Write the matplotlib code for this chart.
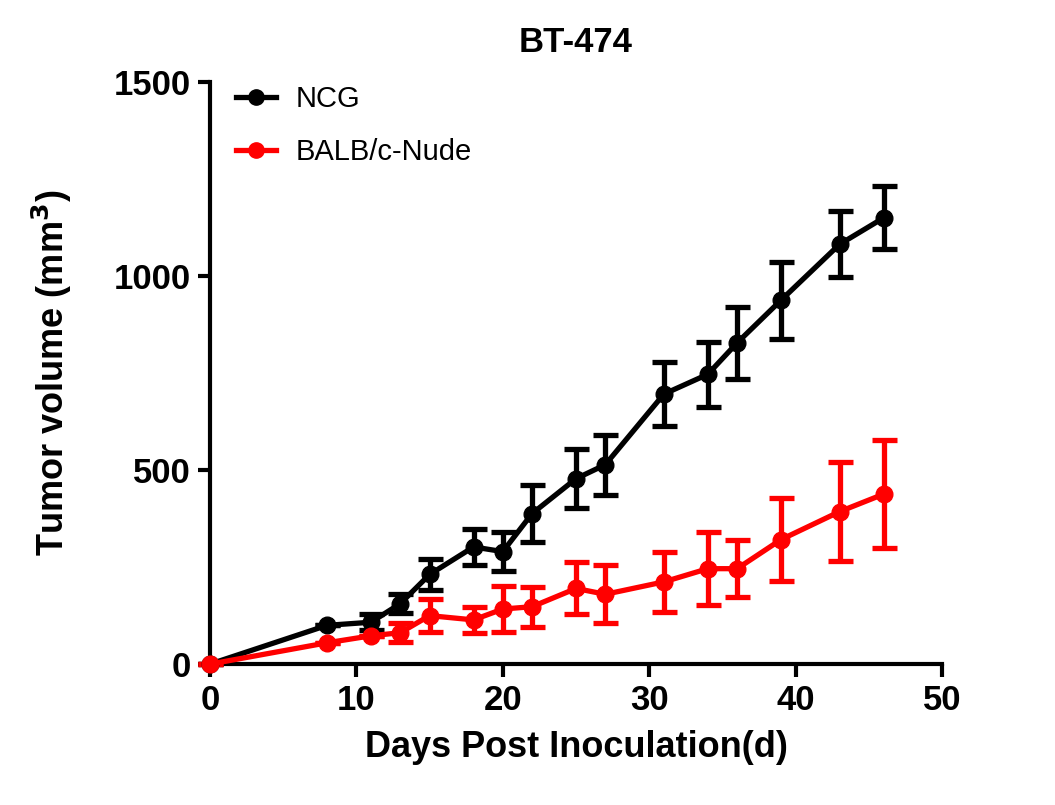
import numpy as np
import matplotlib
matplotlib.use("Agg")
import matplotlib.pyplot as plt
from matplotlib.lines import Line2D

plt.rcParams['font.family'] = ['Liberation Sans', 'DejaVu Sans']

# data
days_ncg = [0, 8, 11, 13, 15, 18, 20, 22, 25, 27, 31, 34, 36, 39, 43, 46]
ncg = [0, 100, 108, 156, 231, 302, 290, 388, 478, 514, 696, 747, 828, 938, 1082, 1150]
ncg_err = [0, 0, 20, 25, 40, 47, 50, 73, 76, 77, 83, 84, 92, 99, 85, 81]

days_nude = [0, 8, 11, 13, 15, 18, 20, 22, 25, 27, 31, 34, 36, 39, 43, 46]
nude = [0, 55, 73, 81, 125, 114, 142, 148, 195, 180, 212, 246, 246, 321, 393, 438]
nude_err = [0, 0, 0, 25, 43, 34, 59, 52, 67, 75, 77, 94, 74, 107, 128, 140]

fig = plt.figure(figsize=(10.55, 8.05), dpi=100)
ax = fig.add_axes([0.199, 0.175, 0.694, 0.723])

handles = []
for x, y, e, c, lab in [(days_ncg, ncg, ncg_err, 'black', 'NCG'),
                        (days_nude, nude, nude_err, '#ff0000', 'BALB/c-Nude')]:
    ax.errorbar(x, y, yerr=e, color=c, lw=3.8, marker='o', ms=12,
                capsize=9, capthick=3.8, elinewidth=3.8, clip_on=False, zorder=3)
    handles.append(Line2D([], [], color=c, lw=3.8, marker='o', ms=11, label=lab))

ax.set_xlim(0, 50)
ax.set_ylim(0, 1500)
ax.set_xticks([0, 10, 20, 30, 40, 50])
ax.set_yticks([0, 500, 1000, 1500])
for s in ['top', 'right']:
    ax.spines[s].set_visible(False)
for s in ['left', 'bottom']:
    ax.spines[s].set_linewidth(3)
ax.tick_params(width=3, length=9, labelsize=25, pad=5)
for lbl in ax.get_xticklabels() + ax.get_yticklabels():
    lbl.set_fontweight('bold')

ax.set_xlabel('Days Post Inoculation(d)', fontsize=26, fontweight='bold', labelpad=10)
ax.set_ylabel('Tumor volume (mm$^\\mathbf{3}$)', fontsize=26, fontweight='bold', labelpad=28)
ax.set_title('BT-474', fontsize=25, fontweight='bold', pad=22)

ax.legend(handles=handles, loc='upper left', frameon=False, fontsize=21,
          handlelength=1.35, handletextpad=0.7, labelspacing=0.85,
          bbox_to_anchor=(0.0, 1.04))

fig.savefig('out.png', dpi=100)
